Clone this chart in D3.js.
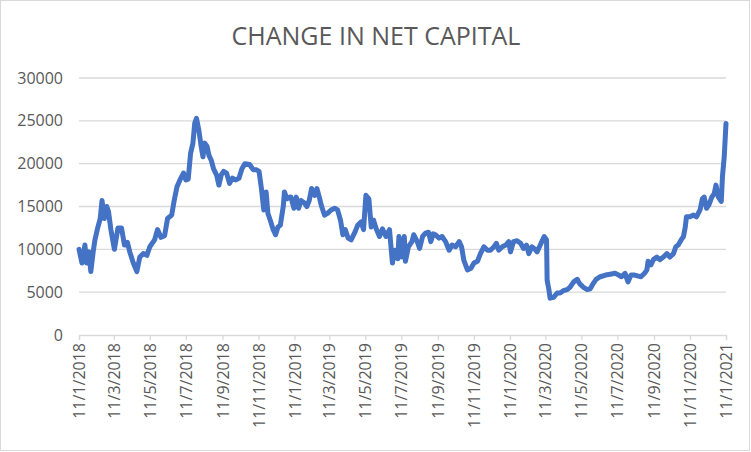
<!DOCTYPE html>
<html>
<head>
<meta charset="utf-8">
<script src="https://cdn.jsdelivr.net/npm/d3@7"></script>
<style>
  body { margin: 0; background: #fff; }
  svg { display: block; }
  text { font-family: "Open Sans", sans-serif; fill: #595959; }
</style>
</head>
<body>
<svg id="chart" width="751" height="452"></svg>
<script>
// values (D/M/YYYY axis, Jan 2018 - Jan 2021)
const dates = [
  "2018-01-11","2018-01-16","2018-01-21","2018-01-24","2018-01-28","2018-01-31","2018-02-04","2018-02-07",
  "2018-02-12","2018-02-16","2018-02-19","2018-02-23","2018-02-27","2018-03-02","2018-03-06","2018-03-12",
  "2018-03-18","2018-03-24","2018-03-29","2018-04-03","2018-04-07","2018-04-13","2018-04-19","2018-04-24",
  "2018-04-30","2018-05-06","2018-05-11","2018-05-19","2018-05-24","2018-05-30","2018-06-05","2018-06-10",
  "2018-06-17","2018-06-21","2018-06-26","2018-07-01","2018-07-07","2018-07-11","2018-07-15","2018-07-19",
  "2018-07-23","2018-07-26","2018-07-29","2018-08-02","2018-08-06","2018-08-09","2018-08-12","2018-08-16",
  "2018-08-19","2018-08-23","2018-08-27","2018-09-01","2018-09-05","2018-09-09","2018-09-13","2018-09-18",
  "2018-09-23","2018-09-28","2018-10-03","2018-10-09","2018-10-14","2018-10-19","2018-10-27","2018-11-02",
  "2018-11-07","2018-11-12","2018-11-16","2018-11-20","2018-11-24","2018-11-27","2018-12-01","2018-12-06",
  "2018-12-10","2018-12-14","2018-12-18","2018-12-23","2018-12-25","2018-12-29","2019-01-03","2019-01-05",
  "2019-01-10","2019-01-14","2019-01-18","2019-01-22","2019-01-28","2019-02-01","2019-02-05","2019-02-09",
  "2019-02-14","2019-02-18","2019-02-22","2019-02-26","2019-03-03","2019-03-08","2019-03-14","2019-03-20",
  "2019-03-25","2019-03-30","2019-04-03","2019-04-07","2019-04-12","2019-04-17","2019-04-24","2019-04-28",
  "2019-05-04","2019-05-08","2019-05-12","2019-05-17","2019-05-21","2019-05-25","2019-05-30","2019-06-04",
  "2019-06-09","2019-06-15","2019-06-21","2019-06-23","2019-06-26","2019-06-30","2019-07-05","2019-07-07",
  "2019-07-12","2019-07-16","2019-07-18","2019-07-23","2019-07-29","2019-08-01","2019-08-07","2019-08-11",
  "2019-08-16","2019-08-21","2019-08-26","2019-08-30","2019-09-03","2019-09-07","2019-09-13","2019-09-18",
  "2019-09-24","2019-09-30","2019-10-05","2019-10-11","2019-10-17","2019-10-21","2019-10-25","2019-10-31",
  "2019-11-06","2019-11-11","2019-11-17","2019-11-22","2019-11-28","2019-12-04","2019-12-09","2019-12-15",
  "2019-12-19","2019-12-23","2019-12-29","2020-01-04","2020-01-09","2020-01-12","2020-01-17","2020-01-23",
  "2020-01-29","2020-02-03","2020-02-08","2020-02-12","2020-02-17","2020-02-21","2020-02-26","2020-03-01",
  "2020-03-05","2020-03-09","2020-03-13","2020-03-14","2020-03-17","2020-03-19","2020-03-25","2020-03-31",
  "2020-04-05","2020-04-11","2020-04-17","2020-04-22","2020-04-28","2020-05-04","2020-05-08","2020-05-14",
  "2020-05-21","2020-05-26","2020-05-31","2020-06-05","2020-06-12","2020-06-21","2020-06-29","2020-07-07",
  "2020-07-13","2020-07-18","2020-07-24","2020-07-29","2020-08-03","2020-08-09","2020-08-14","2020-08-20",
  "2020-08-26","2020-08-30","2020-09-01","2020-09-06","2020-09-10","2020-09-16","2020-09-21","2020-09-27",
  "2020-10-03","2020-10-08","2020-10-14","2020-10-18","2020-10-22","2020-10-27","2020-10-31","2020-11-03",
  "2020-11-05","2020-11-11","2020-11-17","2020-11-22","2020-11-28","2020-12-02","2020-12-05","2020-12-09",
  "2020-12-13","2020-12-18","2020-12-22","2020-12-25","2020-12-29","2021-01-03","2021-01-05","2021-01-08",
  "2021-01-11"
];

const capital = [
  10000, 8400, 10500, 8400, 9700, 7400, 9700, 11100,
  12600, 13600, 15700, 13600, 15000, 14400, 12300, 10000,
  12500, 12500, 10500, 10800, 9700, 8400, 7400, 9100,
  9500, 9300, 10300, 11100, 12300, 11400, 11600, 13600,
  14000, 15600, 17300, 18100, 18900, 18100, 18200, 21200,
  22400, 24700, 25300, 23900, 22000, 20800, 22400, 22000,
  21000, 20400, 19400, 18700, 17500, 18700, 19100, 18900,
  17700, 18300, 18100, 18300, 19400, 20000, 19900, 19300,
  19300, 19100, 17100, 14600, 16700, 14200, 13400, 12300,
  11700, 12600, 12800, 15000, 16700, 15900, 16100, 16100,
  14800, 16100, 14800, 15700, 15400, 15000, 15700, 17100,
  16300, 17100, 16100, 15000, 14000, 14200, 14600, 14800,
  14600, 13400, 11700, 12300, 11300, 11100, 12100, 12800,
  13200, 12300, 16300, 15900, 12600, 13400, 12300, 11500,
  12400, 11500, 12300, 10700, 8400, 9900, 8900, 11500,
  9100, 11500, 8600, 10300, 10900, 11700, 10900, 10100,
  11500, 11900, 12000, 10900, 11800, 11700, 11300, 11500,
  10900, 9900, 10500, 10300, 10900, 10300, 8700, 7600,
  7800, 8400, 8600, 9500, 10300, 9900, 9900, 10300,
  10700, 9900, 10300, 10500, 10900, 9700, 10900, 11000,
  10700, 10100, 10500, 9500, 10300, 10100, 9700, 10300,
  10900, 11500, 11100, 6400, 5300, 4300, 4400, 4900,
  4900, 5200, 5300, 5600, 6200, 6500, 6000, 5600,
  5300, 5400, 6000, 6500, 6800, 7000, 7100, 7200,
  7000, 6800, 7200, 6200, 7000, 7000, 6900, 6800,
  7200, 7600, 8600, 8200, 8800, 9100, 8800, 9100,
  9500, 9100, 9500, 10300, 10500, 11100, 11500, 12600,
  13800, 13800, 14000, 13800, 14600, 15900, 16100, 14800,
  15200, 16100, 16500, 17500, 16100, 15600, 18500, 20800,
  24700
];

const tickDates = [
  "2018-01-11","2018-03-11","2018-05-11","2018-07-11","2018-09-11","2018-11-11",
  "2019-01-11","2019-03-11","2019-05-11","2019-07-11","2019-09-11","2019-11-11",
  "2020-01-11","2020-03-11","2020-05-11","2020-07-11","2020-09-11","2020-11-11",
  "2021-01-11"
];
const yTicks = [0, 5000, 10000, 15000, 20000, 25000, 30000];
const title = "CHANGE IN NET CAPITAL";

const parse = d3.utcParse("%Y-%m-%d");
const fmt = d3.utcFormat("%-d/%-m/%Y");
const data = dates.map((d, i) => ({ date: parse(d), value: capital[i] }));

const svg = d3.select("#chart");

svg.append("rect")
  .attr("x", 0.5).attr("y", 0.5)
  .attr("width", 749).attr("height", 450)
  .attr("fill", "#fff").attr("stroke", "#d9d9d9");

const x = d3.scaleUtc()
  .domain([parse(tickDates[0]), parse(tickDates[tickDates.length - 1])])
  .range([79, 726]);
const y = d3.scaleLinear().domain([0, 30000]).range([335, 78]);

svg.append("text")
  .attr("x", 376).attr("y", 45)
  .attr("text-anchor", "middle")
  .style("font-size", "25px")
  .text(title);

// gridlines
svg.append("g")
  .selectAll("line")
  .data(yTicks.filter(v => v > 0))
  .join("line")
  .attr("x1", x.range()[0]).attr("x2", x.range()[1])
  .attr("y1", d => y(d)).attr("y2", d => y(d))
  .attr("stroke", "#d9d9d9").attr("stroke-width", 1.3);

// y labels
const yAxis = svg.append("g")
  .attr("transform", `translate(${x.range()[0]},0)`)
  .call(d3.axisLeft(y).tickValues(yTicks).tickSize(0).tickPadding(16).tickFormat(d3.format("d")));
yAxis.select(".domain").remove();
yAxis.selectAll("text").style("font-size", "16px").style("font-family", "'Open Sans', sans-serif").attr("fill", "#595959");

// x axis
const xAxis = svg.append("g")
  .attr("transform", `translate(0,${y(0)})`)
  .call(d3.axisBottom(x).tickValues(tickDates.map(parse)).tickSize(5).tickFormat(fmt));
xAxis.select(".domain").attr("stroke", "#d9d9d9").attr("stroke-width", 1.3);
xAxis.selectAll(".tick line").attr("stroke", "#d9d9d9").attr("stroke-width", 1.3);
xAxis.selectAll("text")
  .style("font-size", "16px")
  .style("font-family", "'Open Sans', sans-serif")
  .attr("fill", "#595959")
  .attr("text-anchor", "end")
  .attr("transform", "rotate(-90)")
  .attr("x", -8).attr("y", 0).attr("dy", "0.35em");

const line = d3.line()
  .x(d => x(d.date))
  .y(d => y(d.value));

svg.append("path")
  .datum(data)
  .attr("fill", "none")
  .attr("stroke", "#4472c4")
  .attr("stroke-width", 5)
  .attr("stroke-linejoin", "round")
  .attr("stroke-linecap", "round")
  .attr("d", line);
</script>
</body>
</html>
